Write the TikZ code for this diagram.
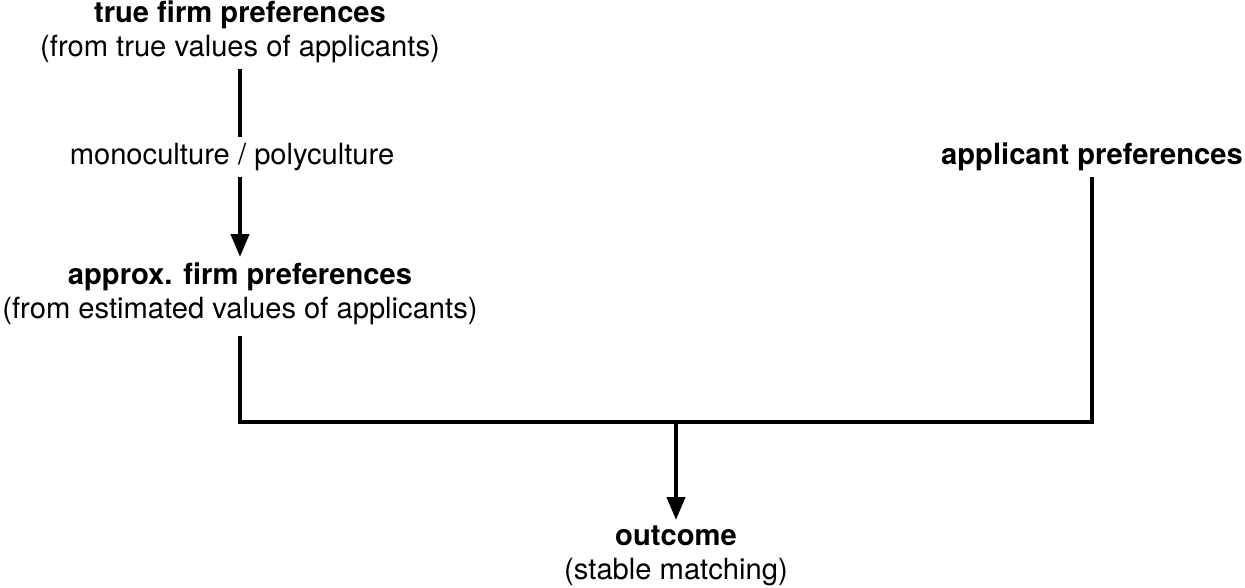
\documentclass[tikz,border=0pt]{standalone}
\usepackage{fontspec}
\setmainfont{TeX Gyre Heros}
\usetikzlibrary{arrows}

\begin{document}
\begin{tikzpicture}[line cap=butt,line join=miter,>=triangle 45,x=0.02cm,y=-0.02cm,
	every node/.style={align=center,font=\fontsize{16.6}{19.5}\selectfont},
	flow/.style={line width=2pt}]
	\useasboundingbox (0,0) rectangle (1245,588);
	\node (truepref) at (240,32) {\textbf{true firm preferences}\\(from true values of applicants)};
	\node (mono) at (232,157) {monoculture / polyculture};
	\node (approxpref) at (240,294) {\textbf{approx. firm preferences}\\(from estimated values of applicants)};
	\node (apppref) at (1092,157) {\textbf{applicant preferences}};
	\node (outcome) at (676,556) {\textbf{outcome}\\(stable matching)};
	\coordinate (join) at (676,422);
	\draw [flow] (truepref.south) -- (truepref.south |- mono.north);
	\draw [flow,->] (truepref.south |- mono.south) -- (approxpref.north);
	\draw [flow] ([yshift=-0.1cm]approxpref.south) |- (join) -| (apppref.south);
	\draw [flow,->] (join) -- (outcome.north);
\end{tikzpicture}
\end{document}
